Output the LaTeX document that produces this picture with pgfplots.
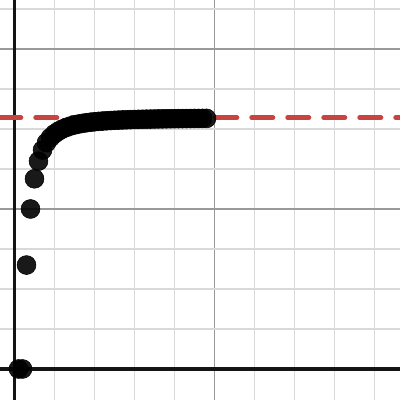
\documentclass[border=0pt]{standalone}
\usepackage{pgfplots}
\pgfplotsset{compat=1.18}
\definecolor{dred}{RGB}{199,68,64}
\begin{document}
\begin{tikzpicture}
\begin{axis}[
  width=300pt, height=300pt, scale only axis,
  xmin=-0.3625, xmax=9.6375,
  ymin=-0.3875, ymax=4.6125,
  axis line style={draw=none},
  xtick={5}, minor xtick={1,2,3,4,6,7,8,9},
  ytick={2,4}, minor ytick={0.5,1,1.5,2.5,3,3.5,4.5},
  xticklabels={}, yticklabels={},
  major tick style={draw=none}, minor tick style={draw=none},
  grid=both,
  minor grid style={draw=gray!30, line width=1.3pt},
  major grid style={draw=gray!80, line width=1.4pt},
]
\draw[line width=2.5pt, draw=black!92] (axis cs:-0.3625,0) -- (axis cs:9.6375,0);
\draw[line width=2.5pt, draw=black!92] (axis cs:0,-0.3875) -- (axis cs:0,4.6125);
\addplot[dred, line width=3.8pt, line cap=round, dash pattern=on 15.75pt off 11.25pt, forget plot] coordinates {(-0.3675,3.14159) (9.6375,3.14159)};
\addplot[only marks, mark=*, mark size=7.1pt, mark options={draw=none, fill=black, fill opacity=0.9}] coordinates {
(0.1,0) (0.2,0) (0.3,1.299038) (0.4,2) (0.5,2.377641) (0.6,2.598076)
(0.7,2.736410) (0.8,2.828427) (0.9,2.892544) (1.0,2.938926) (1.1,2.973524)
(1.2,3.0) (1.3,3.020701) (1.4,3.037186) (1.5,3.050525) (1.6,3.061467)
(1.7,3.070554) (1.8,3.078181) (1.9,3.084641) (2.0,3.090170) (2.1,3.094930)
(2.2,3.099058) (2.3,3.102663) (2.4,3.105829) (2.5,3.108624) (2.6,3.111103)
(2.7,3.113316) (2.8,3.115293) (2.9,3.117068) (3.0,3.118675) (3.1,3.120133)
(3.2,3.121446) (3.3,3.122646) (3.4,3.123742) (3.5,3.124746) (3.6,3.125667)
(3.7,3.126516) (3.8,3.127298) (3.9,3.128021) (4.0,3.128690) (4.1,3.129310)
(4.2,3.129888) (4.3,3.130426) (4.4,3.130927) (4.5,3.131395) (4.6,3.131833)
(4.7,3.132243) (4.8,3.132629)
};
\end{axis}
\pgfresetboundingbox
\path (current axis.south west) rectangle (current axis.north east);
\end{tikzpicture}
\end{document}
